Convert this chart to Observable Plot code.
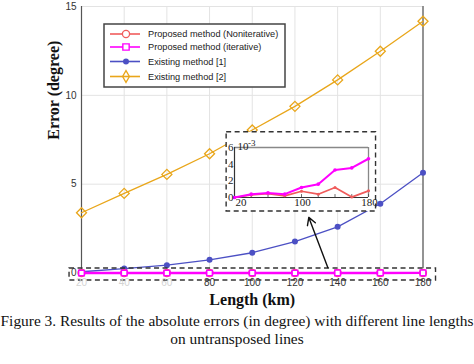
<!DOCTYPE html>
<html>
<head>
<meta charset="utf-8">
<script src="https://cdn.jsdelivr.net/npm/d3@7"></script>
<script src="https://cdn.jsdelivr.net/npm/@observablehq/plot@0.6"></script>
<style>
  body { margin: 0; background: #fff; }
  #wrap { position: relative; width: 474px; height: 364px; overflow: hidden; background: #fff; }
  #caption { position: absolute; left: 0; top: 312px; width: 474px; font-family: "Liberation Serif", "Times New Roman", serif; font-size: 15.4px; line-height: 18px; text-align: center; color: #111; white-space: nowrap; }
  #legend, #inset { position: absolute; }
</style>
</head>
<body>
<div id="wrap"></div>
<script>
// ---- data ----
const lengths = [20, 40, 60, 80, 100, 120, 140, 160, 180];
// proposed methods: errors in units of 10^-3 degree
const proposedNoniterative = [0, 0.3, 0.45, 0.2, 0.75, 0.4, 1.2, 0.05, 0.8];
const proposedIterative = [0, 0.4, 0.55, 0.4, 1.2, 1.6, 3.3, 3.55, 4.65];
const insetExponent = 1e-3;
const existing1 = [0.07, 0.25, 0.44, 0.74, 1.14, 1.77, 2.6, 3.9, 5.64];
const existing2 = [3.39, 4.48, 5.55, 6.71, 8.05, 9.38, 10.87, 12.48, 14.17];

const xTicks = [20, 40, 60, 80, 100, 120, 140, 160, 180];
const yTicks = [0, 5, 10, 15];
const insetXLabels = [20, 100, 180];
const insetYTicks = [0, 2, 4, 6];

const seriesNames = ["Proposed method (Noniterative)", "Proposed method (iterative)", "Existing method [1]", "Existing method [2]"];
const seriesColors = ["#f05c5c", "#ff00ff", "#4c50c4", "#e9a61a"];

// annotation boxes (data units of the main chart)
const zoomBox = [{x1: 14.4, x2: 186.1, y1: -0.42, y2: 0.25}];
const insetBox = [{x1: 88, x2: 158, y1: 3.46, y2: 7.92}];
const pointer = [{x1: 135.4, y1: 0.31, x2: 126.5, y2: 3.13}];

// ---- tables ----
const rows = (vals, scale = 1) => lengths.map((x, i) => ({x, y: vals[i] * scale}));
const nonIterMain = rows(proposedNoniterative, insetExponent);
const iterMain = rows(proposedIterative, insetExponent);
const ex1 = rows(existing1);
const ex2 = rows(existing2);
const nonIterInset = rows(proposedNoniterative);
const iterInset = rows(proposedIterative);

const serif = "'Liberation Serif', 'Times New Roman', serif";
const sans = "'Liberation Sans', Arial, sans-serif";

const main = Plot.plot({
  width: 474, height: 310,
  marginLeft: 81, marginRight: 51.5, marginTop: 6, marginBottom: 37.5,
  style: {fontFamily: sans, fontSize: "10px", color: "#333", background: "white", overflow: "visible"},
  x: {domain: [20, 180]},
  y: {domain: [0, 15]},
  marks: [
    Plot.gridX(xTicks, {stroke: "#e3e3e3", strokeOpacity: 1}),
    Plot.gridY(yTicks.filter(d => d > 0), {stroke: "#e3e3e3", strokeOpacity: 1}),
    Plot.ruleX([20], {y1: 0, y2: 15, stroke: "#555", strokeWidth: 1.2}),
    Plot.ruleX([180], {y1: 0.25, y2: 15, stroke: "#555", strokeWidth: 1.2}),
    Plot.line(ex2, {x: "x", y: "y", stroke: seriesColors[3], strokeWidth: 1.3}),
    Plot.dot(ex2, {x: "x", y: "y", symbol: "diamond2", r: 4.5, stroke: seriesColors[3], strokeWidth: 1.3, fill: "none"}),
    Plot.line(ex1, {x: "x", y: "y", stroke: seriesColors[2], strokeWidth: 1.3}),
    Plot.dot(ex1, {x: "x", y: "y", r: 3, fill: seriesColors[2]}),
    Plot.line(nonIterMain, {x: "x", y: "y", stroke: seriesColors[0], strokeWidth: 2}),
    Plot.dot(nonIterMain, {x: "x", y: "y", r: 3.5, stroke: seriesColors[0], fill: "white", strokeWidth: 1.3}),
    Plot.line(iterMain, {x: "x", y: "y", stroke: seriesColors[1], strokeWidth: 2.4}),
    Plot.dot(iterMain, {x: "x", y: "y", symbol: "square2", r: 3.6, stroke: seriesColors[1], fill: "white", strokeWidth: 1.5}),
    Plot.rect(insetBox, {x1: "x1", x2: "x2", y1: "y1", y2: "y2", fill: "white", stroke: "#333", strokeWidth: 1.4, strokeDasharray: "5,3.5"}),
    Plot.rect(zoomBox, {x1: "x1", x2: "x2", y1: "y1", y2: "y2", fill: "none", stroke: "#333", strokeWidth: 1.4, strokeDasharray: "5,3.5"}),
    Plot.arrow(pointer, {x1: "x1", y1: "y1", x2: "x2", y2: "y2", stroke: "#111", strokeWidth: 1.4, headLength: 9}),
    Plot.axisY({ticks: yTicks, tickSize: 0, tickPadding: 5, label: null, fill: "#333", tickFormat: d => String(d)}),
    Plot.axisX({ticks: xTicks, tickSize: 0, tickPadding: 6, label: null, fill: d => d <= 60 ? "#d4d4d4" : "#333", tickFormat: d => String(d)}),
    Plot.text(["Length (km)"], {frameAnchor: "bottom", dy: 32, fontFamily: serif, fontWeight: "bold", fontSize: 16, fill: "#111"}),
    Plot.text(["Error (degree)"], {frameAnchor: "left", dx: -28, rotate: -90, fontFamily: serif, fontWeight: "bold", fontSize: 16, fill: "#111"})
  ]
});

const inset = Plot.plot({
  width: 158, height: 87,
  marginLeft: 12, marginRight: 12, marginTop: 19, marginBottom: 18,
  style: {fontFamily: serif, fontSize: "11px", color: "#222", background: "transparent", overflow: "visible"},
  x: {domain: [20, 180]},
  y: {domain: [0, 6]},
  marks: [
    Plot.ruleY([6], {stroke: "#888", strokeWidth: 1.3}),
    Plot.ruleX([180], {y1: 0, y2: 6, stroke: "#888", strokeWidth: 1.3}),
    Plot.ruleX(lengths, {y1: 0, y2: 0.35, stroke: "#444", strokeWidth: 0.8}),
    Plot.ruleX([20], {y1: 0, y2: 6, stroke: "#333", strokeWidth: 1.2}),
    Plot.ruleY([0], {stroke: "#333", strokeWidth: 1.2}),
    Plot.line(nonIterInset, {x: "x", y: "y", stroke: seriesColors[0], strokeWidth: 1.7}),
    Plot.dot(nonIterInset, {x: "x", y: "y", r: 1.5, fill: seriesColors[0]}),
    Plot.line(iterInset, {x: "x", y: "y", stroke: seriesColors[1], strokeWidth: 2}),
    Plot.dot(iterInset, {x: "x", y: "y", r: 1.8, fill: seriesColors[1]}),
    Plot.axisY({ticks: insetYTicks, tickSize: 0, tickPadding: 1, label: null, tickFormat: d => String(d)}),
    Plot.axisX({ticks: insetXLabels.slice(0, 1), tickSize: 0, tickPadding: 1, label: null, textAnchor: "start", dx: 1, tickFormat: d => String(d)}),
    Plot.axisX({ticks: insetXLabels.slice(1), tickSize: 0, tickPadding: 1, label: null, dx: 1, tickFormat: d => String(d)}),
    Plot.text(["10"], {frameAnchor: "top-left", dx: 3, dy: -5, textAnchor: "start", fontSize: 11}),
    Plot.text(["-3"], {frameAnchor: "top-left", dx: 13.5, dy: -8, textAnchor: "start", fontSize: 9})
  ]
});

const wrap = document.getElementById("wrap");
wrap.appendChild(main);
inset.id = "inset";
inset.style.left = "222px";
inset.style.top = "128px";
wrap.appendChild(inset);

// legend
const lg = d3.select(wrap).append("svg").attr("id", "legend")
  .attr("width", 185).attr("height", 65)
  .style("left", "103px").style("top", "23px");
lg.append("rect").attr("x", 1).attr("y", 1).attr("width", 181).attr("height", 63)
  .attr("fill", "white").attr("stroke", "#444").attr("stroke-width", 1.5);
const rowY = [11, 24, 38.5, 53.5];
seriesNames.forEach((name, i) => {
  const g = lg.append("g").attr("transform", `translate(0,${rowY[i]})`);
  g.append("line").attr("x1", 7).attr("x2", 37).attr("stroke", seriesColors[i]).attr("stroke-width", 1.6);
  const sym = g.append("path").attr("transform", "translate(23,0)");
  if (i === 0) sym.attr("d", d3.symbol(d3.symbolCircle, 40)()).attr("fill", "white").attr("stroke", seriesColors[i]).attr("stroke-width", 1.3);
  if (i === 1) sym.attr("d", d3.symbol(d3.symbolSquare, 40)()).attr("fill", "white").attr("stroke", seriesColors[i]).attr("stroke-width", 1.4);
  if (i === 2) sym.attr("d", d3.symbol(d3.symbolCircle, 28)()).attr("fill", seriesColors[i]);
  if (i === 3) sym.attr("d", d3.symbol(d3.symbolDiamond, 40)()).attr("fill", "none").attr("stroke", seriesColors[i]).attr("stroke-width", 1.3);
  g.append("text").attr("x", 45).attr("dy", "0.35em").text(name)
    .attr("font-family", sans).attr("font-size", 9.2).attr("fill", "#222");
});

const cap = document.createElement("div");
cap.id = "caption";
cap.innerHTML = "Figure 3. Results of the absolute errors (in degree) with different line lengths<br>on untransposed lines";
wrap.appendChild(cap);
</script>
</body>
</html>
